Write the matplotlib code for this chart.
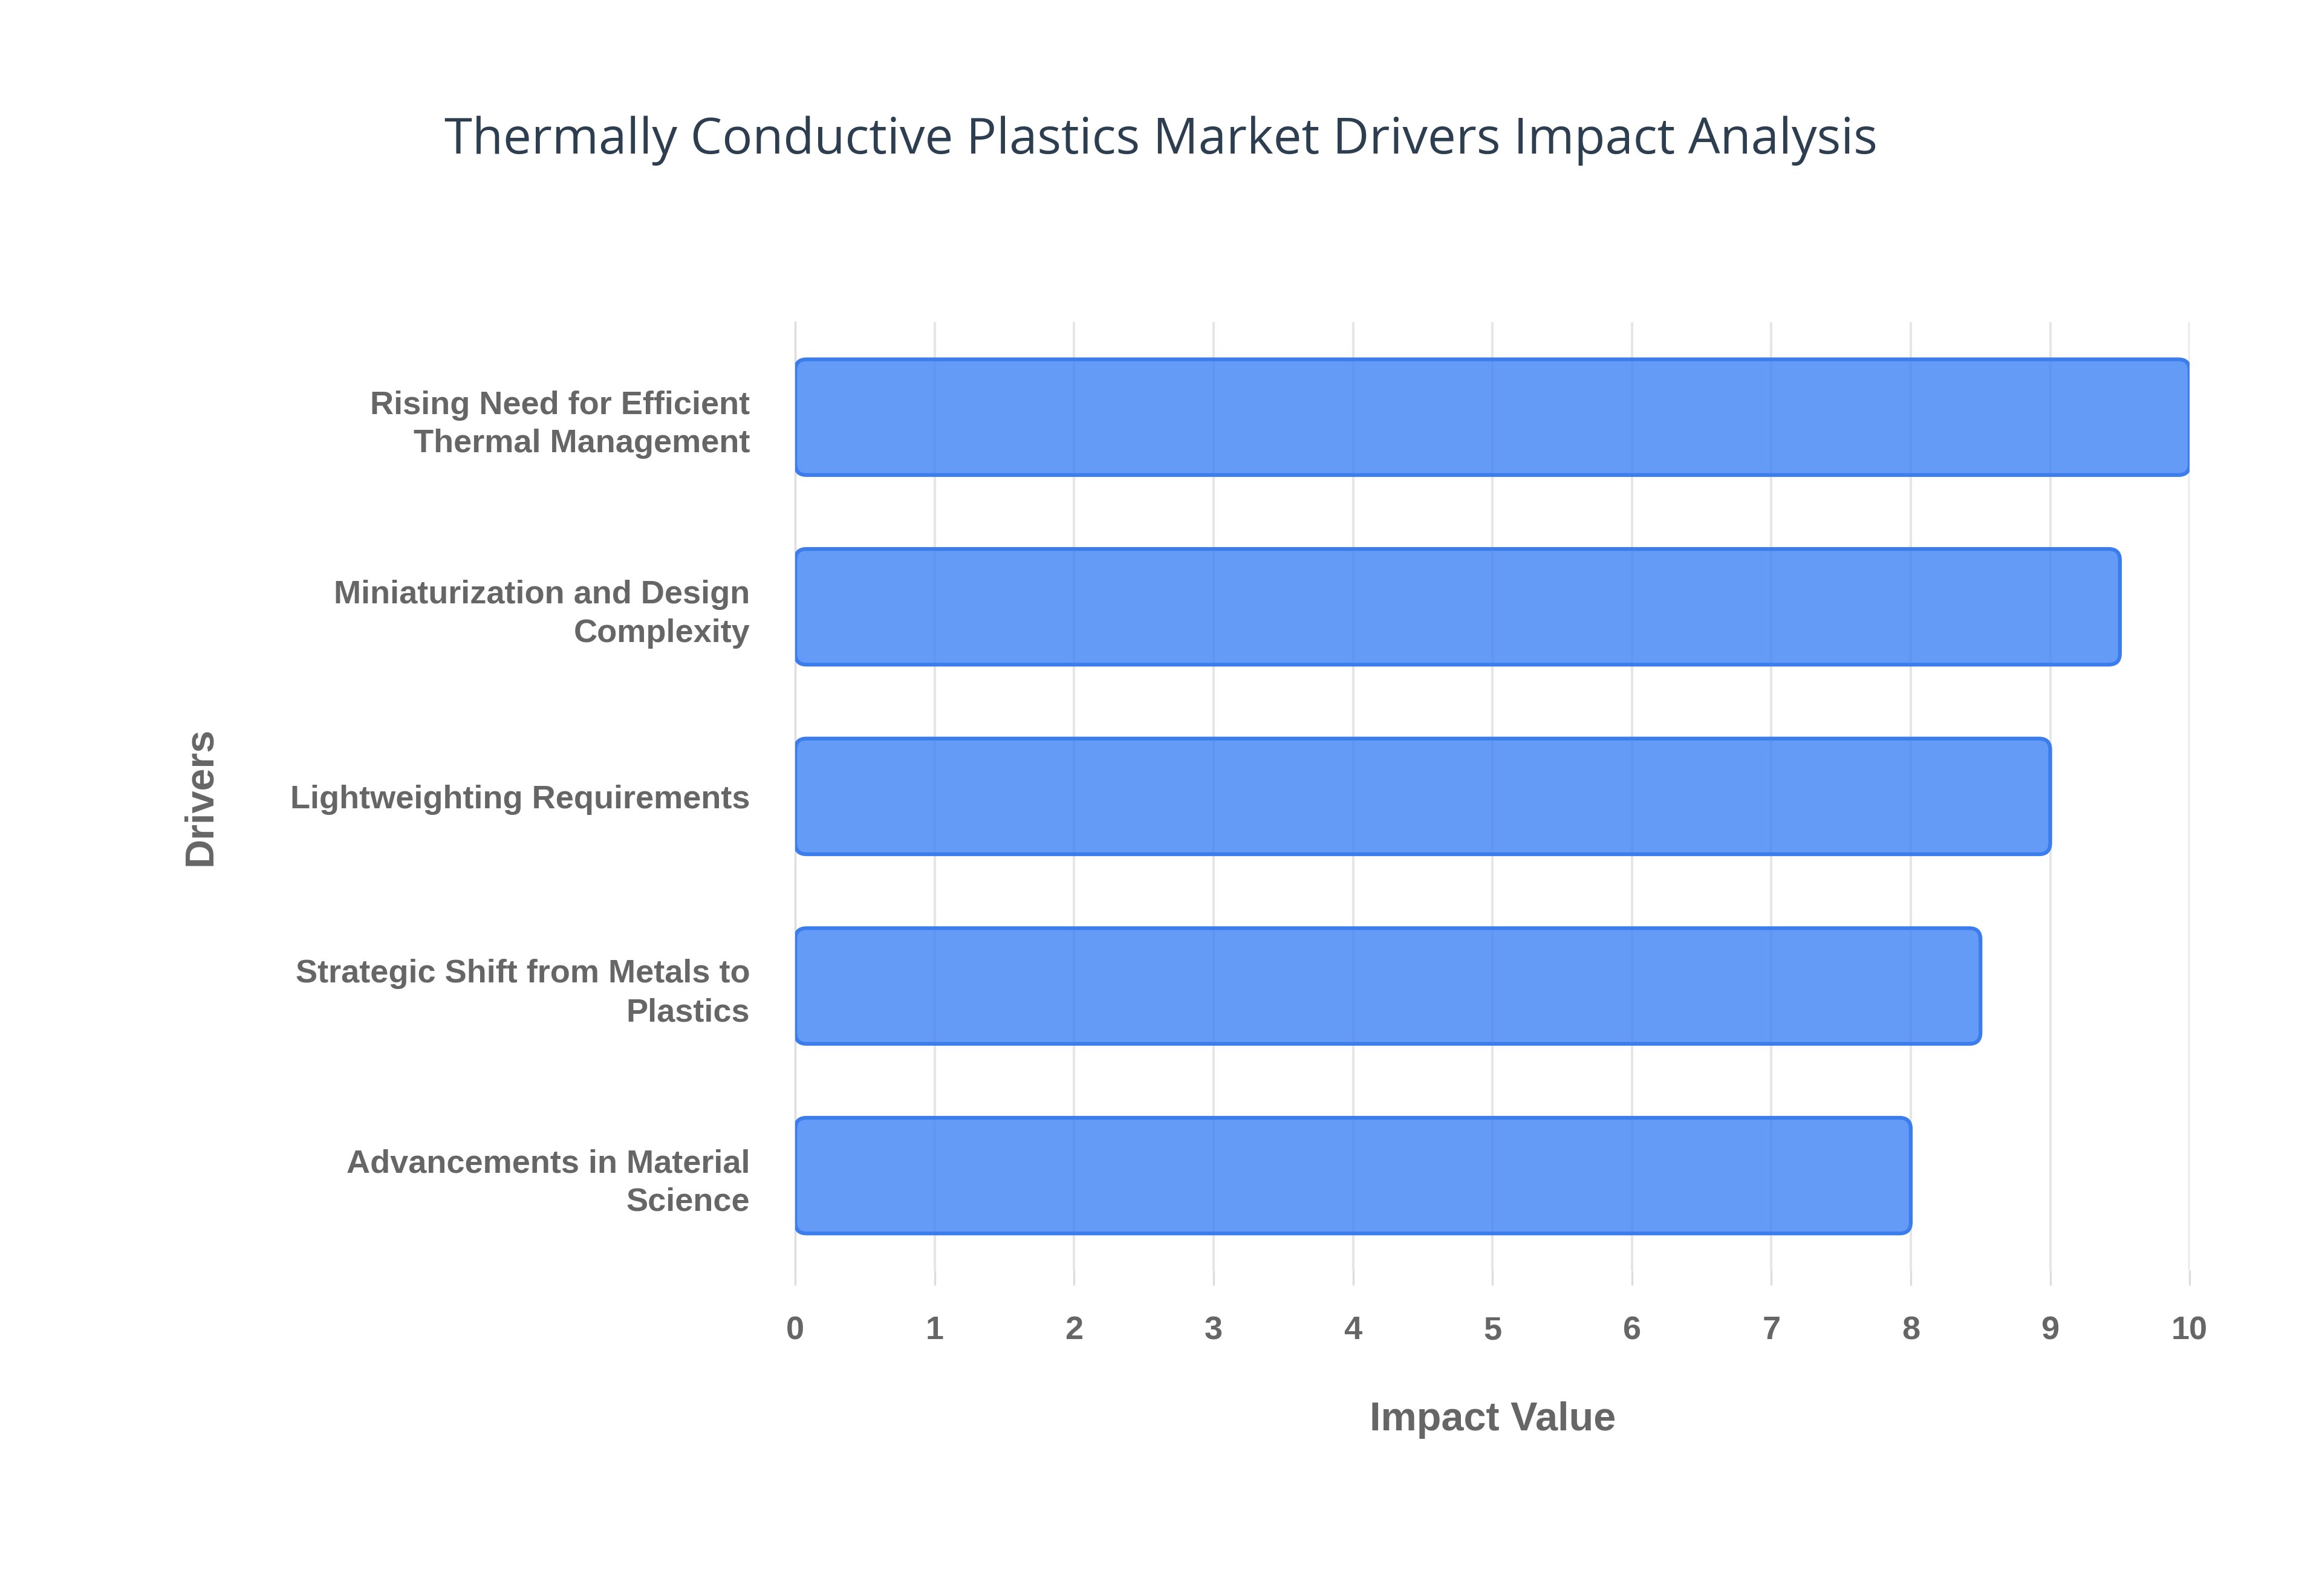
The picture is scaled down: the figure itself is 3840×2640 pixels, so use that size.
import matplotlib
matplotlib.use("Agg")
import matplotlib.pyplot as plt
from matplotlib.patches import FancyBboxPatch

drivers = ["Rising Need for Efficient\nThermal Management",
           "Miniaturization and Design\nComplexity",
           "Lightweighting Requirements",
           "Strategic Shift from Metals to\nPlastics",
           "Advancements in Material\nScience"]
impact = [10, 9.5, 9, 8.5, 8]
xticks = list(range(0, 11))

plt.rcParams['font.family'] = ['Liberation Sans', 'DejaVu Sans']
fig = plt.figure(figsize=(12.8, 8.8), dpi=300)
ax = fig.add_axes([0.3425, 0.204, 0.6005, 0.594])
ypos = list(range(len(drivers)))
h = 0.61
for y, v in zip(ypos, impact):
    p = FancyBboxPatch((0, y - h/2), v, h, boxstyle="round,pad=0,rounding_size=0.08",
                       mutation_aspect=1/ (10/5*0.594*8.8/(0.6005*12.8)) ,
                       facecolor=(0.26, 0.52, 0.96, 0.82), edgecolor="#3b7ded", linewidth=1.5, zorder=3)
    ax.add_patch(p)
ax.set_xlim(0, 10)
ax.set_ylim(len(drivers) - 0.5, -0.5)
ax.set_yticks(ypos)
ax.set_yticklabels(drivers, fontsize=13, fontweight='bold', color='#666666', linespacing=1.35)
ax.set_xticks(xticks)
ax.set_xticklabels([str(t) for t in xticks], fontsize=13, fontweight='bold', color='#666666')
ax.grid(axis='x', color='#e6e6e6', linewidth=1, zorder=0)
for s in ['top', 'right', 'bottom']:
    ax.spines[s].set_visible(False)
ax.spines['left'].set_color('#dddddd')
ax.tick_params(axis='y', length=0, pad=18)
ax.tick_params(axis='x', length=6, color='#dddddd', pad=12)
ax.set_xlabel("Impact Value", fontsize=16, fontweight='bold', color='#666666', labelpad=22)
ax.set_ylabel("Drivers", fontsize=16, fontweight='bold', color='#666666', labelpad=28)
fig.text(0.5, 0.912, "Thermally Conductive Plastics Market Drivers Impact Analysis",
         ha='center', va='center', fontsize=20, color='#2c3e50', family=['Open Sans', 'DejaVu Sans'])
fig.savefig("out.png", dpi=300, facecolor='white')
